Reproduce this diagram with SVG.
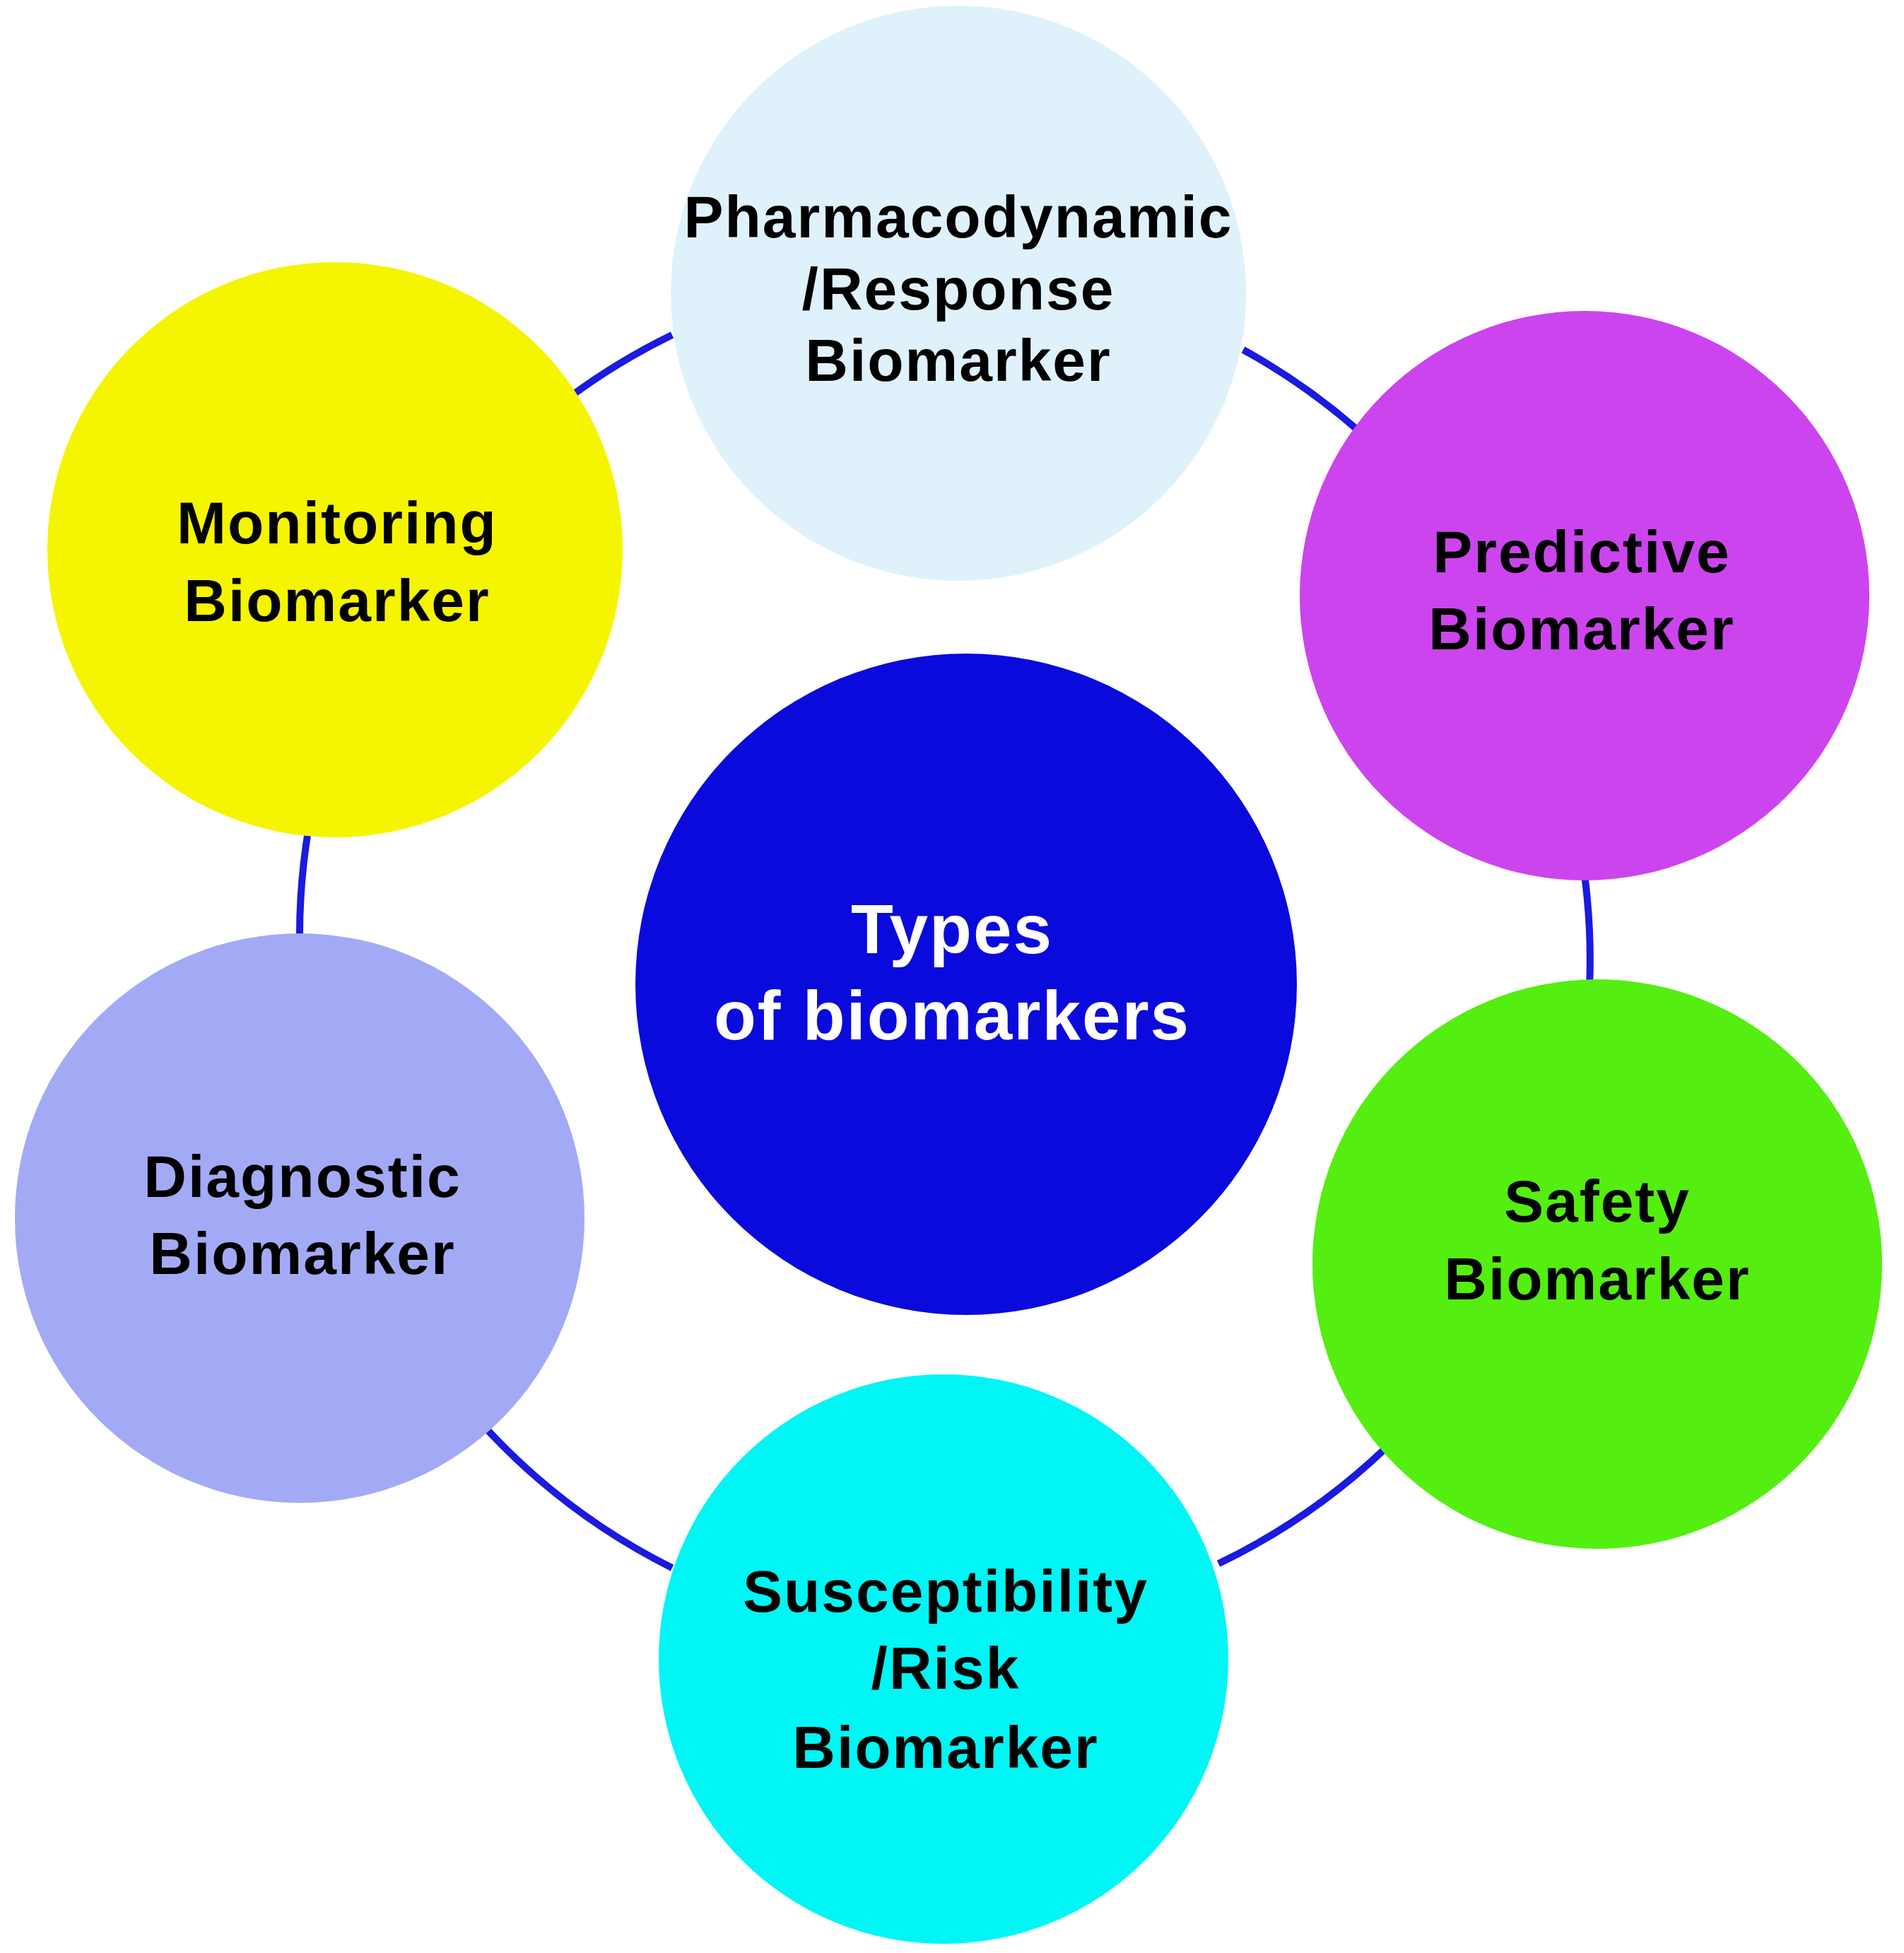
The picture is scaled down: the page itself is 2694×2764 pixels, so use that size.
<svg xmlns="http://www.w3.org/2000/svg" width="2694" height="2764" viewBox="0 0 2694 2764">
<style>
.t{font-family:"Liberation Sans",Arial,sans-serif;font-weight:bold;font-size:84px;letter-spacing:2px;fill:#000;text-anchor:middle}
.c{font-size:98px;fill:#fff}
.l{fill:none;stroke:#1a1ae0;stroke-width:10}
</style>
<rect width="2694" height="2764" fill="#fff"/>
<g id="connectors">
<path class="l" d="M810 559 A920 920 0 0 1 951 474"/>
<path class="l" d="M1759 495 A920 920 0 0 1 1918 606"/>
<path class="l" d="M2242 1238 A920 920 0 0 1 2249 1397"/>
<path class="l" d="M1959 2051 A920 920 0 0 1 1724 2213"/>
<path class="l" d="M951 2219 A920 920 0 0 1 690 2024"/>
<path class="l" d="M424 1335 A920 920 0 0 1 437 1170"/>
</g>
<g id="center"><circle cx="1367" cy="1393" r="468" fill="#0a0adc"/>
<text class="t c" x="1347" y="1349">Types</text><text class="t c" x="1347" y="1471">of biomarkers</text></g>
<g id="pharmacodynamic"><circle cx="1356" cy="415" r="407" fill="#dff2fb"/>
<text class="t" x="1356" y="336">Pharmacodynamic</text><text class="t" x="1356" y="438">/Response</text><text class="t" x="1356" y="539">Biomarker</text></g>
<g id="monitoring"><circle cx="474" cy="778" r="407" fill="#f5f500"/>
<text class="t" x="477" y="769">Monitoring</text><text class="t" x="477" y="879">Biomarker</text></g>
<g id="predictive"><circle cx="2242" cy="843" r="403" fill="#cc44ee"/>
<text class="t" x="2238" y="810">Predictive</text><text class="t" x="2238" y="919">Biomarker</text></g>
<g id="diagnostic"><circle cx="424" cy="1724" r="403" fill="#a3aaf5"/>
<text class="t" x="428" y="1694">Diagnostic</text><text class="t" x="428" y="1803">Biomarker</text></g>
<g id="safety"><circle cx="2260" cy="1789" r="403" fill="#55ee11"/>
<text class="t" x="2260" y="1729">Safety</text><text class="t" x="2260" y="1839">Biomarker</text></g>
<g id="susceptibility"><circle cx="1335" cy="2348" r="403" fill="#00f5f5"/>
<text class="t" x="1338" y="2281">Susceptibility</text><text class="t" x="1338" y="2390">/Risk</text><text class="t" x="1338" y="2502">Biomarker</text></g>
</svg>
